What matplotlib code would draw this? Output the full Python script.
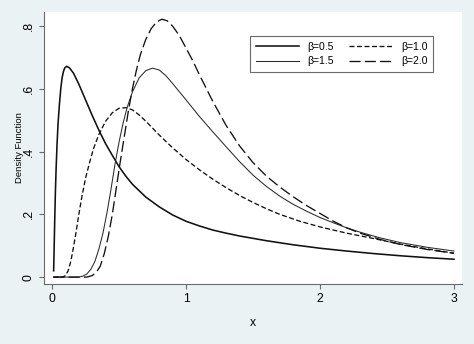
import numpy as np
import matplotlib.pyplot as plt

plt.rcParams['font.family'] = ['Liberation Sans', 'DejaVu Sans']
plt.rcParams['lines.scale_dashes'] = False

# values
x_b05 = [0.012, 0.016, 0.02, 0.025, 0.03, 0.037, 0.045, 0.055, 0.065, 0.075, 0.085, 0.095,
         0.11, 0.13, 0.16, 0.2, 0.25, 0.3, 0.35, 0.4, 0.45, 0.5, 0.55, 0.6, 0.7, 0.8, 0.9,
         1.0, 1.1, 1.2, 1.3, 1.4, 1.6, 1.8, 2.0, 2.2, 2.4, 2.6, 2.8, 3.0]
y_b05 = [0.02, 0.10, 0.18, 0.27, 0.34, 0.42, 0.49, 0.55, 0.60, 0.635, 0.655, 0.667,
         0.672, 0.667, 0.65, 0.615, 0.565, 0.515, 0.468, 0.425, 0.388, 0.352, 0.322, 0.296,
         0.255, 0.224, 0.198, 0.178, 0.163, 0.15, 0.14, 0.131, 0.116, 0.103, 0.092, 0.083,
         0.075, 0.068, 0.062, 0.057]

x_b10 = [0.01, 0.08, 0.1, 0.12, 0.14, 0.16, 0.18, 0.2, 0.22, 0.25, 0.28, 0.31, 0.35, 0.4,
         0.45, 0.5, 0.55, 0.6, 0.65, 0.7, 0.75, 0.8, 0.9, 1.0, 1.1, 1.2, 1.3, 1.4, 1.5, 1.6,
         1.7, 1.85, 2.0, 2.2, 2.4, 2.6, 2.8, 3.0]
y_b10 = [0.0, 0.0, 0.005, 0.02, 0.05, 0.095, 0.145, 0.20, 0.25, 0.315, 0.365, 0.41, 0.455,
         0.497, 0.524, 0.538, 0.54, 0.533, 0.517, 0.497, 0.475, 0.453, 0.412, 0.375, 0.342,
         0.312, 0.285, 0.26, 0.238, 0.218, 0.20, 0.178, 0.16, 0.14, 0.123, 0.105, 0.09,
         0.076]

x_b15 = [0.01, 0.2, 0.23, 0.26, 0.29, 0.32, 0.35, 0.38, 0.41, 0.44, 0.47, 0.5, 0.53, 0.56,
         0.6, 0.65, 0.7, 0.75, 0.8, 0.85, 0.9, 1.0, 1.1, 1.2, 1.3, 1.4, 1.5, 1.6, 1.7, 1.8,
         1.9, 2.0, 2.1, 2.2, 2.3, 2.45, 2.6, 2.8, 3.0]
y_b15 = [0.0, 0.0, 0.003, 0.01, 0.025, 0.05, 0.09, 0.14, 0.205, 0.28, 0.36, 0.43, 0.49,
         0.54, 0.59, 0.635, 0.658, 0.666, 0.66, 0.642, 0.617, 0.565, 0.512, 0.463, 0.415,
         0.368, 0.325, 0.289, 0.258, 0.232, 0.21, 0.19, 0.173, 0.157, 0.143, 0.125, 0.11,
         0.095, 0.083]

x_b20 = [0.01, 0.26, 0.3, 0.33, 0.36, 0.39, 0.42, 0.45, 0.48, 0.51, 0.54, 0.57, 0.6, 0.63,
         0.66, 0.7, 0.74, 0.78, 0.82, 0.86, 0.9, 0.95, 1.0, 1.05, 1.1, 1.2, 1.3, 1.4, 1.5,
         1.6, 1.7, 1.8, 1.9, 2.0, 2.1, 2.2, 2.3, 2.45, 2.6, 2.8, 3.0]
y_b20 = [0.0, 0.0, 0.005, 0.015, 0.035, 0.075, 0.13, 0.20, 0.285, 0.37, 0.45, 0.53, 0.60,
         0.66, 0.71, 0.758, 0.792, 0.813, 0.822, 0.817, 0.80, 0.77, 0.73, 0.69, 0.645,
         0.56, 0.483, 0.418, 0.365, 0.322, 0.287, 0.256, 0.228, 0.203, 0.178, 0.157, 0.14,
         0.12, 0.104, 0.088, 0.076]

x_ticks = [0, 1, 2, 3]
y_ticks = [0, 0.2, 0.4, 0.6, 0.8]
y_tick_labels = ["0", ".2", ".4", ".6", ".8"]

bg = "#eaf2f3"
axis_gray = "#6a6a6a"

fig = plt.figure(figsize=(4.74, 3.44), dpi=100, facecolor=bg)
ax = fig.add_axes([44 / 474, 1 - 284 / 344, 418 / 474, 272 / 344], facecolor="white")

l05, = ax.plot(x_b05, y_b05, color="#111111", lw=1.15)
l10, = ax.plot(x_b10, y_b10, color="#111111", lw=0.95, dashes=(3.6, 1.8))
l15, = ax.plot(x_b15, y_b15, color="#2a2a2a", lw=0.75)
l20, = ax.plot(x_b20, y_b20, color="#111111", lw=0.95, dashes=(8, 3))

ax.set_xlim(-0.06, 3.06)
ax.set_ylim(-0.022, 0.845)
ax.set_xticks(x_ticks)
ax.set_yticks(y_ticks)
ax.set_yticklabels(y_tick_labels)

for side in ["top", "right"]:
    ax.spines[side].set_visible(False)
for side in ["left", "bottom"]:
    ax.spines[side].set_color(axis_gray)
    ax.spines[side].set_linewidth(0.8)

ax.tick_params(direction="out", length=3.6, width=0.8, color=axis_gray,
               labelsize=8.7, labelcolor="black", pad=3)
ax.tick_params(axis="y", labelrotation=90)
for lab in ax.get_yticklabels():
    lab.set_va("center")

fig.text(19 / 474, 1 - 148 / 344, "Density Function", rotation=90,
         ha="center", va="center", fontsize=6.8)
fig.text(253 / 474, 1 - 323 / 344, "x", ha="center", va="center", fontsize=8.7)

# columns fill first, so order gives rows 0.5/1.0 and 1.5/2.0
leg = ax.legend([l05, l15, l10, l20], ["\u03b2=0.5", "\u03b2=1.5", "\u03b2=1.0", "\u03b2=2.0"],
                ncol=2, loc="upper left", bbox_to_anchor=(250 / 474, 1 - 36 / 344),
                bbox_transform=fig.transFigure, borderaxespad=0, fontsize=7.5,
                handlelength=4.2, handletextpad=0.75, columnspacing=1.5,
                borderpad=0.55, labelspacing=0.45, fancybox=False, framealpha=1)
leg.get_frame().set_edgecolor(axis_gray)
leg.get_frame().set_linewidth(0.8)

fig.savefig("out.png", dpi=100, facecolor=bg)
